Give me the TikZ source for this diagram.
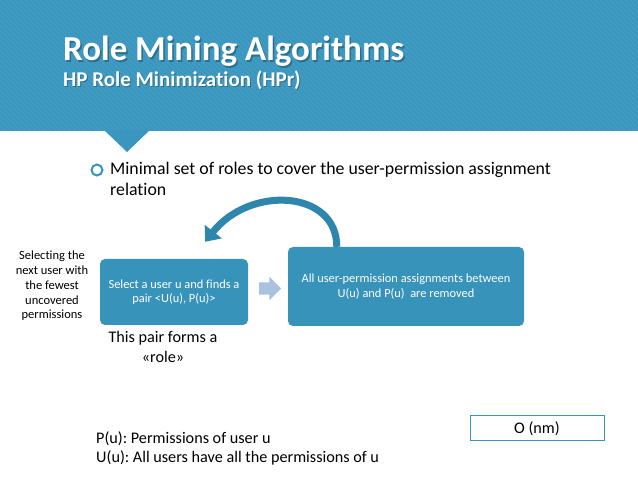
\documentclass[tikz,border=0pt]{standalone}
\usepackage{fontspec}
\setmainfont[Ligatures={NoCommon}]{Carlito}
\usetikzlibrary{positioning,shapes.arrows,calc,arrows.meta}
\definecolor{banner}{HTML}{3A96BE}
\definecolor{stripe}{HTML}{439DC4}
\definecolor{boxblue}{HTML}{3893BB}
\definecolor{arcblue}{HTML}{2F86AD}
\definecolor{palearrow}{HTML}{A8C3DB}
\definecolor{ringblue}{HTML}{3A94BC}
\definecolor{shadowgray}{HTML}{2A6F8E}
\frenchspacing

\tikzset{
  stepbox/.style={rounded corners=5pt,fill=boxblue,text=white,align=center,inner sep=0pt,font=\fontsize{12.4}{14.5}\selectfont},
  note/.style={align=center,inner sep=0pt,font=\fontsize{12.5}{14.7}\selectfont},
  bodytext/.style={align=left,inner sep=0pt,font=\fontsize{16.2}{19.5}\selectfont},
}

\begin{document}
\begin{tikzpicture}[x=1pt,y=-1pt]
			\useasboundingbox (0,0) rectangle (638,478);
			\fill[white] (0,0) rectangle (638,478);
			% banner with stripes
			\fill[banner] (0,0) rectangle (638,131);
			\begin{scope}
				\clip (0,0) rectangle (638,131);
				\foreach \i in {-140,-135,...,640}{
						\draw[stripe,line width=1.2pt] (\i,0) -- (\i+131,131);
					}
			\end{scope}
			\fill[banner] (104,130) -- (127,152) -- (150,130) -- cycle;
			% titles
			\node[anchor=base west,inner sep=0pt,text=shadowgray,font=\bfseries\fontsize{35}{40}\selectfont] (titleshadow) at (64.5,62.5) {Role Mining Algorithms};
			\node[anchor=base west,inner sep=0pt,text=white,font=\bfseries\fontsize{35}{40}\selectfont] (title) at (63,61) {Role Mining Algorithms};
			\node[anchor=base west,inner sep=0pt,text=shadowgray,font=\bfseries\fontsize{21}{24}\selectfont] (subshadow) at (64,88) {HP Role Minimization (HPr)};
			\node[anchor=base west,inner sep=0pt,text=white,font=\bfseries\fontsize{21}{24}\selectfont] (subtitle) at (63,87) {HP Role Minimization (HPr)};
			% bullet
			\node[circle,draw=ringblue,line width=2pt,minimum size=11pt,inner sep=0pt] (ring) at (97,170) {};
			\node[anchor=north west,align=left,inner sep=0pt,font=\fontsize{17.8}{21}\selectfont] (point) at (110,162) {Minimal set of roles to cover the user-permission assignment\\relation};
			% steps
			\node[stepbox,minimum width=148pt,minimum height=66pt] (select) at (174,292) {Select a user u and finds a\\pair <U(u), P(u)>};
			\node[stepbox,minimum width=236pt,minimum height=79pt] (remove) at (406,286.5) {All user-permission assignments between\\U(u) and P(u)\ \ are removed};
			\node[single arrow,fill=palearrow,inner sep=6pt,minimum width=23pt,minimum height=22pt,single arrow head extend=5.5pt] (next) at (267,288.5) {};
			\coordinate (loopend) at ($(select.north east)+(-43,-17)$);
			\draw[arcblue,line width=7pt,-{Triangle[width=21pt,length=13pt]}] ($(remove.north west)+(49,0)$) .. controls (337,190) and (250,185) .. (loopend);
			% notes
			\node[note] (why) at (52,286) {Selecting the\\next user with\\the fewest\\uncovered\\permissions};
			\node[bodytext,align=center] (pairrole) at (163,347) {This pair forms a\\«role»};
			\node[bodytext,anchor=north west] (defs) at (96,431) {P(u): Permissions of user u\\U(u): All users have all the permissions of u};
			\node[draw=ringblue,line width=1pt,minimum width=134pt,minimum height=25pt,inner sep=0pt,font=\fontsize{16.2}{19}\selectfont] (cost) at (537,428.5) {O (nm)};
		\end{tikzpicture}
\end{document}
